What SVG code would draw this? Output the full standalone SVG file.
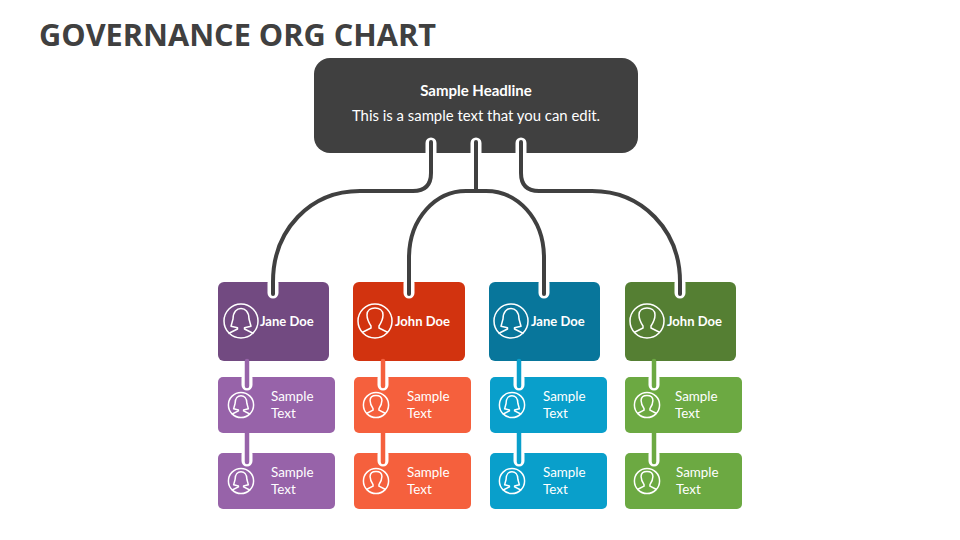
<svg xmlns="http://www.w3.org/2000/svg" width="960" height="540" viewBox="0 0 960 540">
<style>
.t{font-family:"Lato","Liberation Sans",sans-serif;fill:#fff}
.h{font-family:"Open Sans","Liberation Sans",sans-serif;font-weight:700;font-size:30.7px;fill:#404040}
.b{font-weight:700}
.n{font-size:13px;font-weight:700}
.s{font-size:13.4px}
.halo{fill:none;stroke:#fff;stroke-width:11;stroke-linecap:round;stroke-linejoin:round}
.dark{fill:none;stroke:#404040;stroke-width:4;stroke-linecap:round}
.ic *{fill:none;stroke:#fff;stroke-width:1.5;vector-effect:non-scaling-stroke;stroke-linejoin:round}
.lp{fill:#9763A9}.lr{fill:#F5603D}.lb{fill:#099FCB}.lg{fill:#6CA942}
</style>
<defs>
<g id="f" class="ic"><circle r="17"/><path d="M-12.5,12.5L-3.5,8V6.8L-10,5.2L-8,-2C-8,-9.500-4,-12.500 0,-12.500C4,-12.500 8,-9.500 8,-2L10,5.200L3.500,6.800V8L12.500,12.500"/></g>
<g id="m" class="ic"><circle r="17"/><path d="M-13,11.500L-4,7V5C-6,2-8,-2-8,-6C-8,-11-4,-13 0,-13C4,-13 8,-11 8,-6C8,-2 6,2 4,5V7L13,11.500"/></g>
</defs>
<text class="h" x="39" y="45.500" id="title">GOVERNANCE ORG CHART</text>

<g id="node-top"><rect x="314" y="58" width="324" height="95" rx="16" fill="#404040"/>
<text class="t b" x="476" y="96" text-anchor="middle" font-size="15">Sample Headline</text>
<text class="t" x="476" y="121" text-anchor="middle" font-size="14.900">This is a sample text that you can edit.</text></g>

<g id="node-p1"><rect x="218" y="282" width="111" height="79" rx="6" fill="#724A81"/><use href="#f" x="241" y="321"/><text class="t n" x="260" y="326">Jane Doe</text></g>
<g id="node-r1"><rect x="353" y="282" width="112" height="79" rx="6" fill="#D2330F"/><use href="#m" x="375" y="321"/><text class="t n" x="395" y="326">John Doe</text></g>
<g id="node-b1"><rect x="489" y="282" width="111" height="79" rx="6" fill="#08769B"/><use href="#f" x="511" y="321"/><text class="t n" x="531" y="326">Jane Doe</text></g>
<g id="node-g1"><rect x="625" y="282" width="111" height="79" rx="6" fill="#557F33"/><use href="#m" x="647" y="321"/><text class="t n" x="667" y="326">John Doe</text></g>

<g id="node-p2"><rect class="lp" x="218" y="377" width="117" height="56" rx="5"/><use href="#f" transform="translate(241 405) scale(.74)"/><text class="t s" x="271" y="401">Sample</text><text class="t s" x="271" y="418">Text</text></g>
<g id="node-p3"><rect class="lp" x="218" y="453" width="117" height="56" rx="5"/><use href="#f" transform="translate(241 481) scale(.74)"/><text class="t s" x="271" y="477">Sample</text><text class="t s" x="271" y="494">Text</text></g>
<g id="node-r2"><rect class="lr" x="354" y="377" width="117" height="56" rx="5"/><use href="#m" transform="translate(376 405) scale(.74)"/><text class="t s" x="407" y="401">Sample</text><text class="t s" x="407" y="418">Text</text></g>
<g id="node-r3"><rect class="lr" x="354" y="453" width="117" height="56" rx="5"/><use href="#m" transform="translate(376 481) scale(.74)"/><text class="t s" x="407" y="477">Sample</text><text class="t s" x="407" y="494">Text</text></g>
<g id="node-b2"><rect class="lb" x="490" y="377" width="117" height="56" rx="5"/><use href="#f" transform="translate(512 405) scale(.74)"/><text class="t s" x="543" y="401">Sample</text><text class="t s" x="543" y="418">Text</text></g>
<g id="node-b3"><rect class="lb" x="490" y="453" width="117" height="56" rx="5"/><use href="#f" transform="translate(512 481) scale(.74)"/><text class="t s" x="543" y="477">Sample</text><text class="t s" x="543" y="494">Text</text></g>
<g id="node-g2"><rect class="lg" x="625" y="377" width="117" height="56" rx="5"/><use href="#m" transform="translate(647 405) scale(.74)"/><text class="t s" x="675" y="401">Sample</text><text class="t s" x="675" y="418">Text</text></g>
<g id="node-g3"><rect class="lg" x="625" y="453" width="117" height="56" rx="5"/><use href="#m" transform="translate(647 481) scale(.74)"/><text class="t s" x="676" y="477">Sample</text><text class="t s" x="676" y="494">Text</text></g>

<g id="connectors">
<path class="halo" d="M431,143V153M476,143V153M521,143V153M273,293V283M409,293V283M544,293V283M680,293V283"/>
<path class="dark" d="M431,142V173Q431,191 413,191H360C310,191 273,230 273,282V294"/>
<path class="dark" d="M476,142V191"/>
<path class="dark" d="M409,294V258C409,218 436,191 466,191H486C517,191 544,218 544,258V294"/>
<path class="dark" d="M521,142V173Q521,191 539,191H592C642,191 680,230 680,282V294"/>
<path class="halo" d="M247,378V385M247,454V461M383,378V385M383,454V461M519,378V385M519,454V461M654,378V385M654,454V461"/>
<g fill="none" stroke-linecap="round" stroke-width="4.500">
<path stroke="#9763A9" d="M247,361V386M247,433V462"/>
<path stroke="#F5603D" d="M383,361V386M383,433V462"/>
<path stroke="#099FCB" d="M519,361V386M519,433V462"/>
<path stroke="#6CA942" d="M654,361V386M654,433V462"/>
</g>
</g>
</svg>
